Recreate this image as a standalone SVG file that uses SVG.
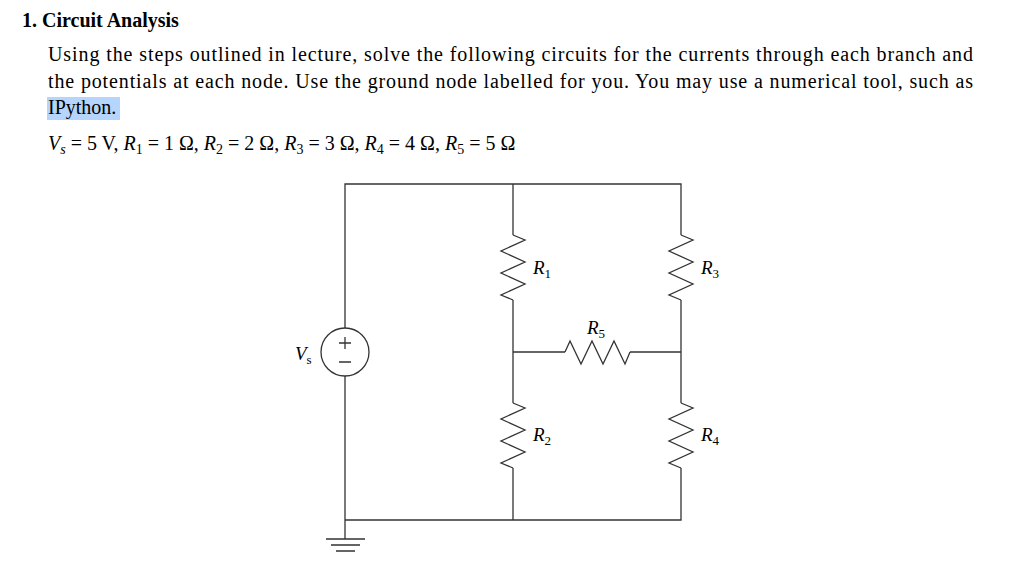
<svg xmlns="http://www.w3.org/2000/svg" width="1024" height="580" viewBox="0 0 1024 580">
<style>
.t{font-family:"Liberation Serif",serif;font-size:20px;fill:#000}
.w{stroke:#333;stroke-width:1.3;fill:none}
.l{font-family:"Liberation Serif",serif;font-size:19px;font-style:italic;fill:#000}
.s{font-size:13px;font-style:normal}
</style>
<rect width="1024" height="580" fill="#fff"/>
<text class="t" x="22" y="27" font-weight="bold">1. Circuit Analysis</text>
<text class="t" x="48" y="61" textLength="925" lengthAdjust="spacing">Using the steps outlined in lecture, solve the following circuits for the currents through each branch and</text>
<text class="t" x="48" y="88" textLength="925" lengthAdjust="spacing">the potentials at each node. Use the ground node labelled for you. You may use a numerical tool, such as</text>
<rect x="47" y="97" width="73" height="23" fill="#b5d5fd"/>
<text class="t" x="48" y="114">IPython.</text>
<text class="t" x="48" y="150"><tspan font-style="italic">V</tspan><tspan font-style="italic" font-size="14" dy="4">s</tspan><tspan dy="-4"> = 5 V, </tspan><tspan font-style="italic">R</tspan><tspan font-size="14" dy="4">1</tspan><tspan dy="-4"> = 1 Ω, </tspan><tspan font-style="italic">R</tspan><tspan font-size="14" dy="4">2</tspan><tspan dy="-4"> = 2 Ω, </tspan><tspan font-style="italic">R</tspan><tspan font-size="14" dy="4">3</tspan><tspan dy="-4"> = 3 Ω, </tspan><tspan font-style="italic">R</tspan><tspan font-size="14" dy="4">4</tspan><tspan dy="-4"> = 4 Ω, </tspan><tspan font-style="italic">R</tspan><tspan font-size="14" dy="4">5</tspan><tspan dy="-4"> = 5 Ω</tspan></text>
<g id="wires" class="w">
<path d="M345,328 V184 H681 V235 M513,184 V235 M513,300 V403 M681,300 V403 M513,468 V520 M681,468 V520 H345 V376 M345,520 V539 M513,352 H565 M630,352 H681"/>
</g>
<g id="vs">
<circle cx="345" cy="352" r="24" class="w"/>
<path class="w" d="M339,343 H351 M345,337 V349 M339,362 H351"/>
<text class="l" x="295" y="360">V<tspan class="s" dy="4">s</tspan></text>
</g>
<g id="r1"><polyline class="w" points="513,235 525,240 501,251 525,262 501,273 525,284 501,295 513,300"/><text class="l" x="533" y="274">R<tspan class="s" dy="4">1</tspan></text></g>
<g id="r2"><polyline class="w" points="513,403 525,408 501,419 525,430 501,441 525,452 501,463 513,468"/><text class="l" x="533" y="441">R<tspan class="s" dy="4">2</tspan></text></g>
<g id="r3"><polyline class="w" points="681,235 693,240 669,251 693,262 669,273 693,284 669,295 681,300"/><text class="l" x="701" y="274">R<tspan class="s" dy="4">3</tspan></text></g>
<g id="r4"><polyline class="w" points="681,403 693,408 669,419 693,430 669,441 693,452 669,463 681,468"/><text class="l" x="701" y="441">R<tspan class="s" dy="4">4</tspan></text></g>
<g id="r5"><polyline class="w" points="565,352 570,341 581,364 592,341 603,364 614,341 625,364 630,352"/><text class="l" x="587" y="334">R<tspan class="s" dy="4">5</tspan></text></g>
<g id="gnd" class="w"><path d="M326,539 H365 M331,545 H360 M336,551 H355"/></g>
</svg>
